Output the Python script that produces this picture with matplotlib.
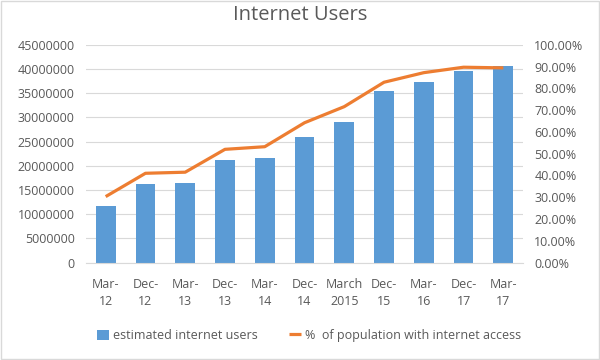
import matplotlib
matplotlib.use("Agg")
import matplotlib.pyplot as plt
from matplotlib.ticker import FuncFormatter, MultipleLocator
from matplotlib.patches import Rectangle

categories = ["Mar-\n12", "Dec-\n12", "Mar-\n13", "Dec-\n13", "Mar-\n14", "Dec-\n14",
              "March\n2015", "Dec-\n15", "Mar-\n16", "Dec-\n17", "Mar-\n17"]
users = [11700000, 16200000, 16400000, 21100000, 21600000, 26000000,
         29100000, 35500000, 37300000, 39600000, 40600000]
pct = [30.3, 41.0, 41.5, 52.0, 53.2, 64.2, 71.6, 82.8, 87.2, 89.7, 89.4]

plt.rcParams['font.family'] = ['Open Sans', 'DejaVu Sans']
txt = '#595959'
fig = plt.figure(figsize=(6, 3.6), dpi=100)
ax = fig.add_axes([0.143, 0.2706, 0.729, 0.605])
x = list(range(len(categories)))
ax.bar(x, users, width=0.5, color='#5b9bd5', zorder=2, label='estimated internet users')
ax.set_xlim(-0.5, len(categories) - 0.5)
ax.set_ylim(0, 45000000)
ax.yaxis.set_major_locator(MultipleLocator(5000000))
ax.yaxis.set_major_formatter(FuncFormatter(lambda v, p: f"{int(v)}"))
ax.grid(axis='y', color='#d9d9d9', linewidth=0.8, zorder=0)
ax.set_axisbelow(True)
for s in ['top', 'right', 'left']:
    ax.spines[s].set_visible(False)
ax.spines['bottom'].set_color('#d9d9d9')
ax.set_xticks(x)
ax.set_xticklabels(categories, linespacing=1.4)
ax.tick_params(axis='both', length=0, colors=txt, labelsize=9)
ax.tick_params(axis='x', pad=11)
ax.tick_params(axis='y', pad=8)

ax2 = ax.twinx()
ax2.plot(x, pct, color='#ed7d31', linewidth=2.3, zorder=3,
         label='%  of population with internet access', solid_capstyle='butt')
ax2.set_ylim(0, 100)
ax2.yaxis.set_major_locator(MultipleLocator(10))
ax2.yaxis.set_major_formatter(FuncFormatter(lambda v, p: f"{v:.2f}%"))
for s in ['top', 'right', 'left', 'bottom']:
    ax2.spines[s].set_visible(False)
ax2.tick_params(axis='y', length=0, colors=txt, labelsize=9, pad=8)

fig.suptitle("Internet Users", x=0.5, y=0.985, fontsize=14.5, color=txt)

h1, l1 = ax.get_legend_handles_labels()
h2, l2 = ax2.get_legend_handles_labels()
fig.legend(h1 + h2, l1 + l2, loc='center', bbox_to_anchor=(0.515, 0.068), ncol=2,
           frameon=False, fontsize=9, labelcolor=txt, handlelength=1.0,
           handleheight=0.9, columnspacing=2.5, handletextpad=0.3)

fig.patches.append(Rectangle((0.001, 0.002), 0.997, 0.995, transform=fig.transFigure,
                             fill=False, edgecolor='#d9d9d9', linewidth=1))
fig.savefig("out.png", dpi=100)
